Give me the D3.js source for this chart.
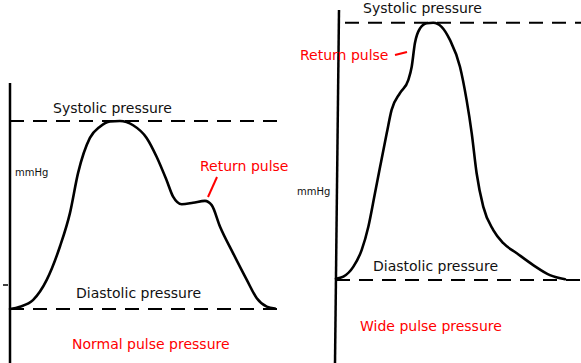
<!DOCTYPE html>
<html>
<head>
<meta charset="utf-8">
<script src="https://cdn.jsdelivr.net/npm/d3@7"></script>
<style>
  body { margin: 0; background: #fff; }
  svg { display: block; }
  text { font-family: "DejaVu Sans", Verdana, sans-serif; }
</style>
</head>
<body>
<div id="chart"></div>
<script>
// Normal pulse pressure (left): time 0..100, pressure in mmHg
var normalTime = [0, 3.7, 8.5, 13.6, 18.5, 22.2, 25.2, 29.6, 33.3, 37.0, 40.7, 45.6, 50.6, 54.3, 58.0, 60.4, 63.6, 67.8, 72.2, 74.7, 77.8, 82.6, 87.7, 91.4, 95.1, 98.1];
var normalPressure = [80, 80.5, 81.9, 86.2, 93.3, 100.4, 108.9, 116.4, 118.8, 119.9, 120, 119.1, 116.4, 112.4, 107.4, 103.9, 102.3, 102.6, 103.0, 102.1, 97.5, 91.9, 86.2, 82.3, 80.5, 80.1];
var normalDiastolic = 80;
var normalSystolic = 120;

// Wide pulse pressure (right)
var wideTime = [0, 3.0, 7.1, 10.5, 13.2, 15.9, 18.0, 20.7, 22.7, 26.1, 29.5, 30.9, 32.2, 34.3, 37.0, 39.7, 43.1, 46.5, 50.6, 53.3, 55.4, 57.4, 60.1, 64.2, 68.3, 73.8, 80.5, 87.3, 93.5];
var widePressure = [60.5, 61.3, 65.2, 71.7, 80.7, 93.7, 104.0, 117.0, 126.1, 132.6, 137.7, 142.9, 152.0, 157.8, 159.8, 160, 158.4, 153.3, 142.9, 130.0, 117.0, 101.5, 88.5, 79.4, 74.3, 70.4, 65.8, 61.9, 60.3];
var wideDiastolic = 60;
var wideSystolic = 160;

var systolicLabel = "Systolic pressure";
var diastolicLabel = "Diastolic pressure";
var unitLabel = "mmHg";
var returnLabel = "Return pulse";
var titles = ["Normal pulse pressure", "Wide pulse pressure"];

var svgWidth = 581;
var svgHeight = 363;

var svg = d3.select("#chart")
  .append("svg")
  .attr("width", svgWidth)
  .attr("height", svgHeight);

// scales for each panel
var xLeft = d3.scaleLinear().domain([0, 100]).range([10, 280]);
var yLeft = d3.scaleLinear().domain([normalDiastolic, normalSystolic]).range([309, 121]);

var xRight = d3.scaleLinear().domain([0, 100]).range([336, 581]);
var yRight = d3.scaleLinear().domain([wideDiastolic, wideSystolic]).range([280, 22.7]);

function drawPanel(g, x, y, times, values, dia, sys, opts) {
  // vertical axis
  g.append("line")
    .attr("x1", opts.axisTopX).attr("y1", opts.axisTop)
    .attr("x2", opts.axisBottomX).attr("y2", svgHeight)
    .attr("stroke", "#000")
    .attr("stroke-width", 2.5);

  // systolic and diastolic dashed lines
  [sys, dia].forEach(function(v, i) {
    g.append("line")
      .attr("x1", i === 0 ? opts.sysStart : x(0))
      .attr("x2", opts.lineEnd)
      .attr("y1", y(v)).attr("y2", y(v))
      .attr("stroke", "#000")
      .attr("stroke-width", 2)
      .attr("stroke-dasharray", "14,9");
  });

  var pts = times.map(function(t, i) { return [t, values[i]]; });
  var line = d3.line()
    .x(d => x(d[0]))
    .y(d => y(d[1]))
    .curve(d3.curveMonotoneX);

  g.append("path")
    .datum(pts)
    .attr("d", line)
    .attr("fill", "none")
    .attr("stroke", "#000")
    .attr("stroke-width", 2.6)
    .attr("stroke-linejoin", "round")
    .attr("stroke-linecap", "round");

  g.append("text")
    .attr("x", opts.sysText[0]).attr("y", opts.sysText[1])
    .attr("font-size", 14).attr("fill", "#111")
    .text(systolicLabel);

  g.append("text")
    .attr("x", opts.diaText[0]).attr("y", opts.diaText[1])
    .attr("font-size", 14).attr("fill", "#111")
    .text(diastolicLabel);

  g.append("text")
    .attr("x", opts.unitText[0]).attr("y", opts.unitText[1])
    .attr("font-size", 10).attr("fill", "#111")
    .text(unitLabel);

  g.append("text")
    .attr("x", opts.retText[0]).attr("y", opts.retText[1])
    .attr("font-size", 14).attr("fill", "#ff0000")
    .text(returnLabel);

  g.append("line")
    .attr("x1", opts.retLine[0]).attr("y1", opts.retLine[1])
    .attr("x2", opts.retLine[2]).attr("y2", opts.retLine[3])
    .attr("stroke", "#ff0000")
    .attr("stroke-width", 2);

  g.append("text")
    .attr("x", opts.title[0]).attr("y", opts.title[1])
    .attr("font-size", 14).attr("fill", "#ff0000")
    .text(opts.titleText);
}

var left = svg.append("g");
drawPanel(left, xLeft, yLeft, normalTime, normalPressure, normalDiastolic, normalSystolic, {
  axisTopX: 10, axisTop: 83, axisBottomX: 10,
  sysStart: 10, lineEnd: 282,
  sysText: [53, 113],
  diaText: [76, 298],
  unitText: [15, 176],
  retText: [200, 171],
  retLine: [217, 177, 208, 197],
  title: [72, 349],
  titleText: titles[0]
});

// small tick mark on the left axis
left.append("line")
  .attr("x1", 3).attr("x2", 8)
  .attr("y1", 285).attr("y2", 285)
  .attr("stroke", "#000").attr("stroke-width", 1.5);

var right = svg.append("g");
drawPanel(right, xRight, yRight, wideTime, widePressure, wideDiastolic, wideSystolic, {
  axisTopX: 339, axisTop: 10, axisBottomX: 335,
  sysStart: 345, lineEnd: 581,
  sysText: [363, 12.5],
  diaText: [373, 271],
  unitText: [297, 195],
  retText: [300, 60],
  retLine: [395, 55, 407, 52],
  title: [360, 331],
  titleText: titles[1]
});
</script>
</body>
</html>
